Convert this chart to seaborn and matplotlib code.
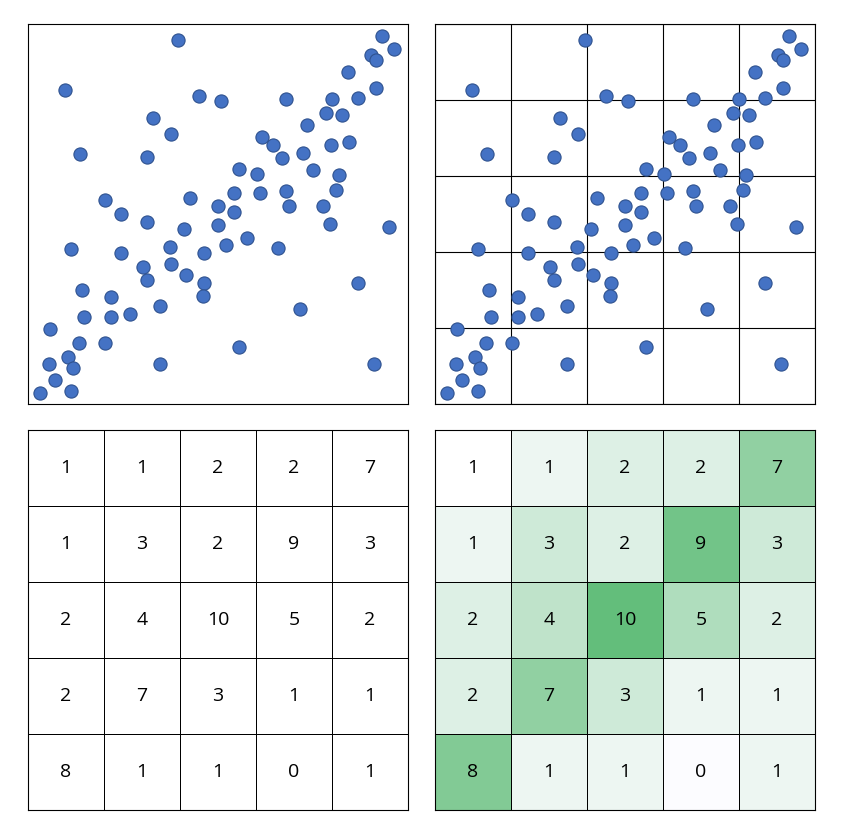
import numpy as np
import pandas as pd
import matplotlib
matplotlib.use("Agg")
import matplotlib.pyplot as plt
from matplotlib.colors import LinearSegmentedColormap, ListedColormap
import seaborn as sns

# scatter points (data units: box spans 0..5 in both directions)
px = [178, 64.7, 199.3, 221, 153, 171.3, 79.7, 147, 105.3, 190, 218, 121.3,
      382, 394, 370.7, 375.7, 348.3, 376.3, 286, 332.3, 358, 325.7, 342, 307.3,
      262, 273.3, 331, 348.7, 282, 303, 238.7, 257, 313, 339.3, 234, 259.7, 286,
      336.3, 234, 288.7, 323,
      147.3, 183.7, 218, 70.7, 120.7, 170.3, 203.7, 142.7, 171.3, 186, 147, 203.7,
      203, 82.3, 110.7, 83.7, 110.7, 129.7, 159.7, 49.7, 78.7, 105.3, 48.7, 68, 73,
      159.7, 55.3, 39.7, 70.7,
      226.3, 247, 278.3, 330, 388.7, 358.3, 300.3, 238.7, 373.7]
py = [40, 89.7, 95.7, 101.3, 118.3, 134, 154, 157.3, 199.7, 197.7, 205.7, 214.5,
      35.7, 48.7, 55, 60, 71.7, 87.7, 98.7, 98.7, 98, 112.7, 115, 124.7,
      137.3, 145.3, 144.7, 141.7, 157.7, 152.7, 168.7, 173.7, 169.7, 174.7, 192.7, 192.7, 191,
      189.7, 212, 205.7, 206.3,
      221.7, 228.7, 225, 249.3, 252.7, 246.7, 253.3, 266.7, 264, 275.3, 280, 283.3,
      295.7, 290.3, 296.7, 316.7, 316.7, 313.7, 305.7, 329.3, 343, 343, 363.7, 356.7, 368,
      363.7, 379.7, 393, 390.7,
      244.7, 238, 247.7, 223.7, 226.7, 282.7, 309, 347, 363.7]
x_vals = [(p - 28) / 76 for p in px]
y_vals = [(404 - p) / 76 for p in py]

# grid counts (top row first)
counts = [[1, 1, 2, 2, 7],
          [1, 3, 2, 9, 3],
          [2, 4, 10, 5, 2],
          [2, 7, 3, 1, 1],
          [8, 1, 1, 0, 1]]

df = pd.DataFrame({"x": x_vals, "y": y_vals})
counts_arr = np.array(counts)

sns.set_theme(style="white")
plt.rcParams['font.family'] = ['Open Sans', 'DejaVu Sans']

W, H = 855, 840
fig = plt.figure(figsize=(W / 100, H / 100), dpi=100)

def add_ax(x0, y0, w, h):
    return fig.add_axes([x0 / W, (H - y0 - h) / H, w / W, h / H])

ax1 = add_ax(28, 24, 380, 380)
ax2 = add_ax(435, 24, 380, 380)
ax3 = add_ax(28, 430, 380, 380)
ax4 = add_ax(435, 430, 380, 380)

LW = 0.8

for ax, grid in [(ax1, False), (ax2, True)]:
    sns.scatterplot(data=df, x="x", y="y", ax=ax, s=90, color="#4472C4",
                    edgecolor="#2F528F", linewidth=0.8, zorder=3)
    ax.set_xlim(0, 5)
    ax.set_ylim(0, 5)
    ax.set_xlabel("")
    ax.set_ylabel("")
    ax.set_xticks(range(6))
    ax.set_yticks(range(6))
    ax.set_xticklabels([])
    ax.set_yticklabels([])
    ax.tick_params(length=0)
    if grid:
        ax.grid(True, color="black", linewidth=LW)
    else:
        ax.grid(False)
    for sp in ax.spines.values():
        sp.set_visible(True)
        sp.set_color("black")
        sp.set_linewidth(LW)

annot_kws = {"fontsize": 14, "color": "black"}

# plain table
sns.heatmap(counts_arr, ax=ax3, cmap=ListedColormap(["white"]), annot=counts_arr,
            fmt="d", cbar=False, linewidths=0.5, linecolor="black",
            annot_kws=annot_kws, xticklabels=False, yticklabels=False)

# coloured table (top-left cell left uncoloured)
cmap = LinearSegmentedColormap.from_list("xl", ["#FCFCFF", "#63BE7B"])
cmap.set_under("white")
color_vals = counts_arr.astype(float).copy()
color_vals[0, 0] = -1
sns.heatmap(color_vals, ax=ax4, cmap=cmap, vmin=0, vmax=10, annot=counts_arr,
            fmt="d", cbar=False, linewidths=0.5, linecolor="black",
            annot_kws=annot_kws, xticklabels=False, yticklabels=False)

for ax in (ax3, ax4):
    ax.tick_params(length=0)
    for sp in ax.spines.values():
        sp.set_visible(True)
        sp.set_color("black")
        sp.set_linewidth(LW)

fig.savefig("out.png", dpi=100, facecolor="white")
